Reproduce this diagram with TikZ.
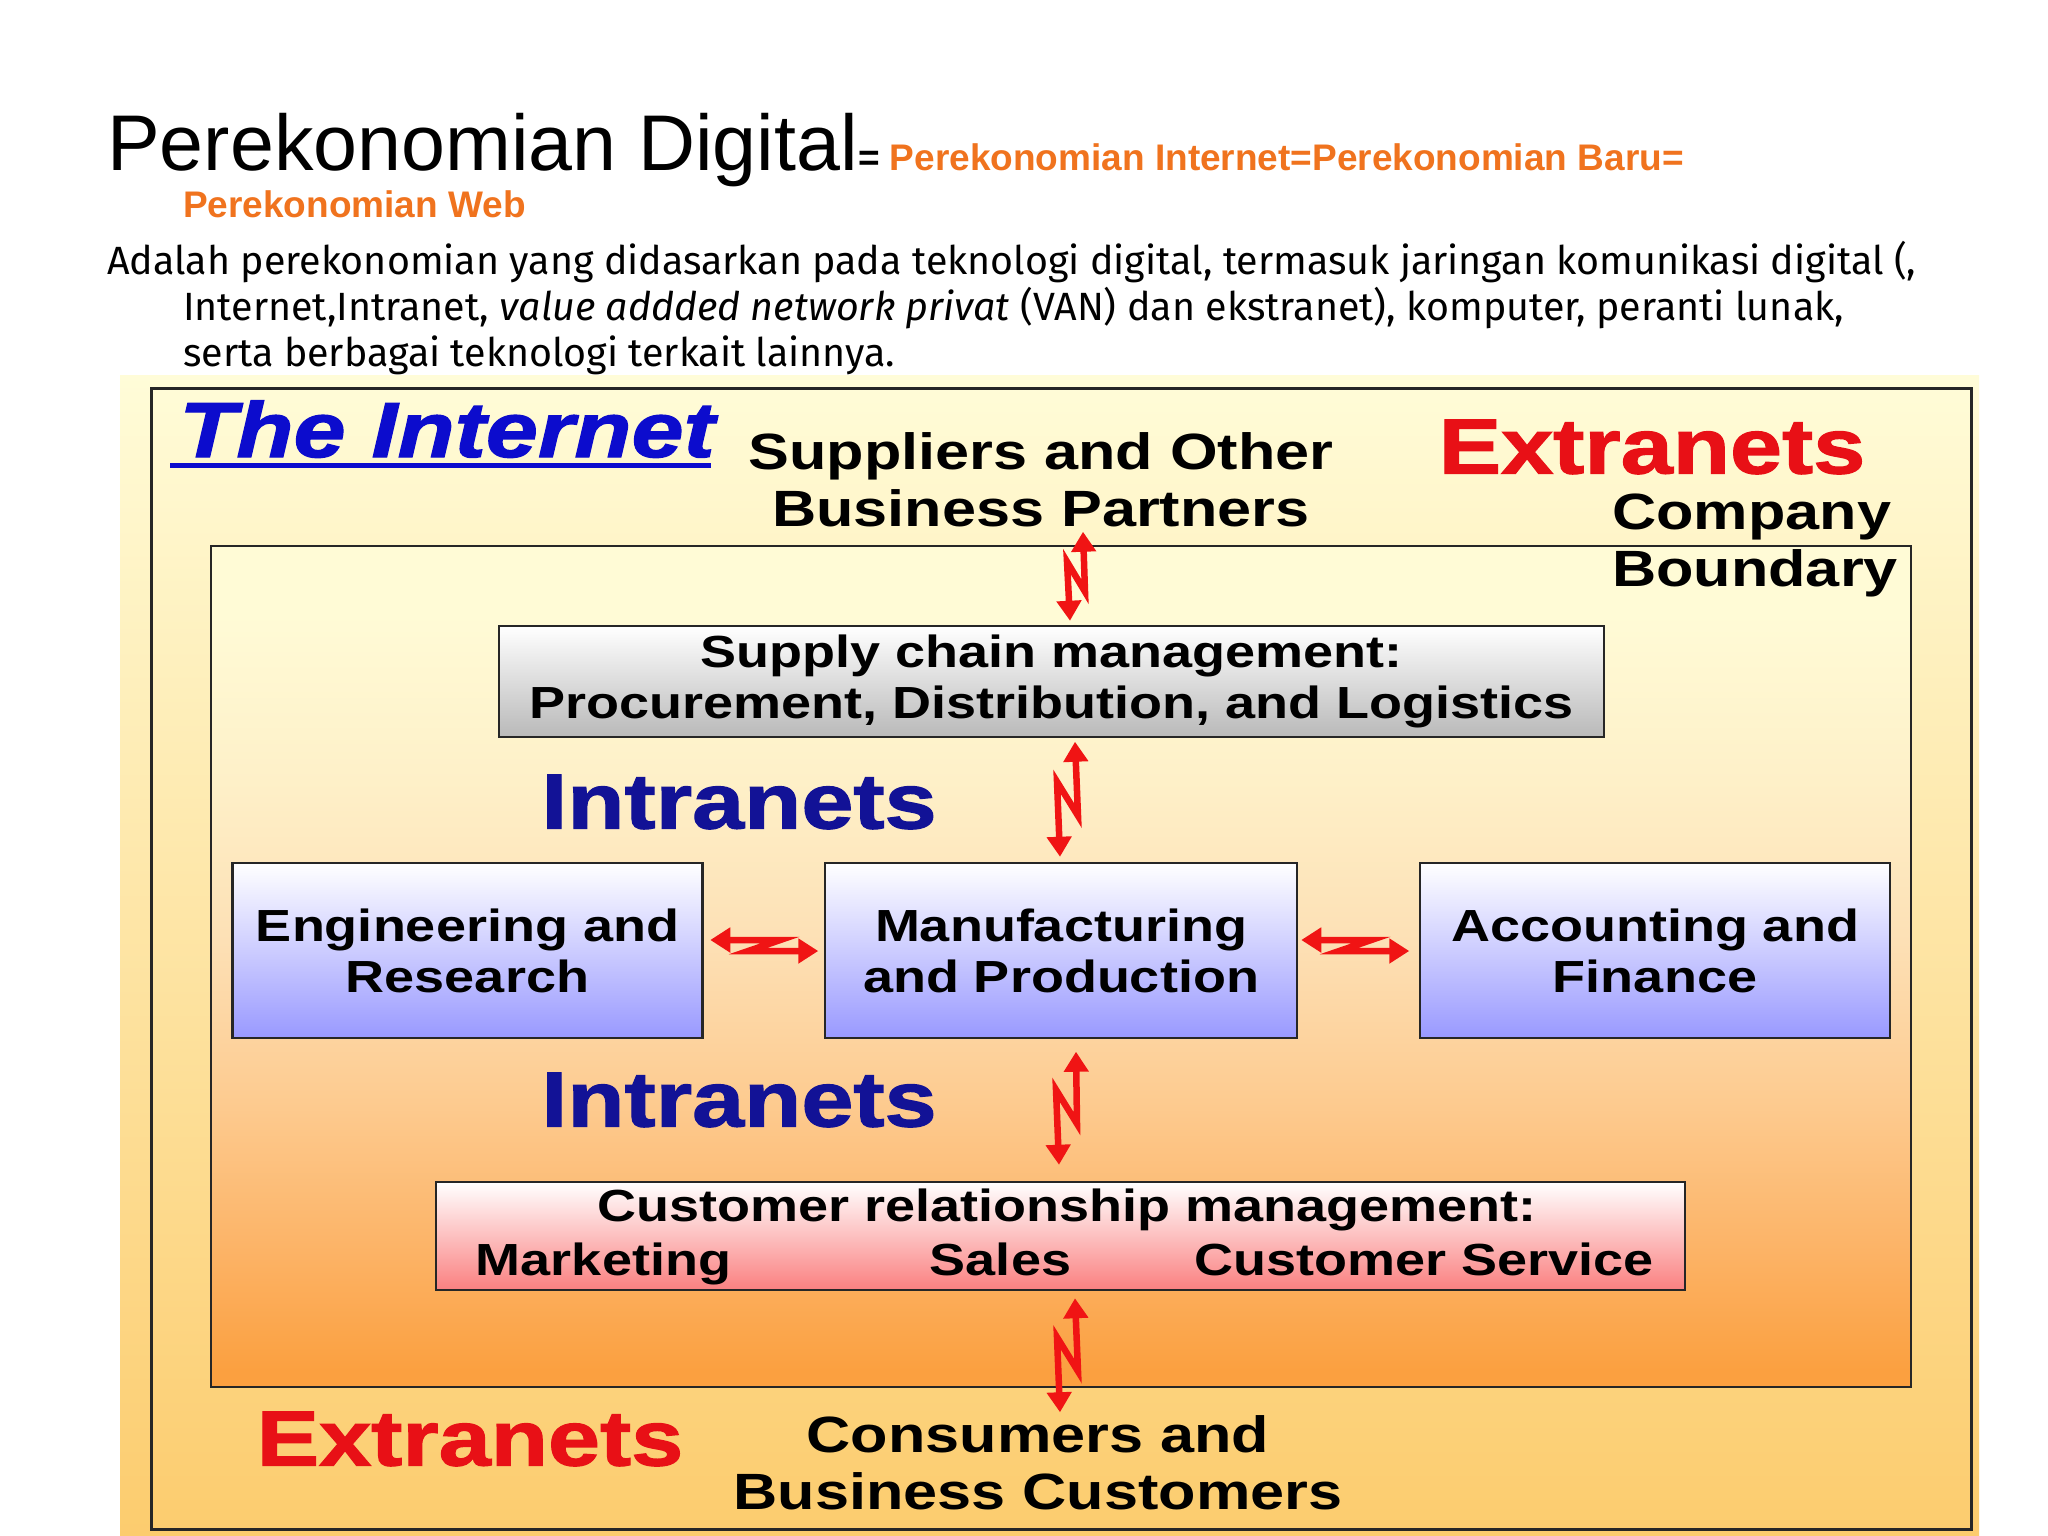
\documentclass[tikz,border=0pt]{standalone}
\usepackage{fontspec}
\setmainfont{Liberation Sans}
\newfontfamily\dfont[FakeStretch=1.2]{Liberation Sans}
\newfontfamily\bigfont[FakeStretch=1.2,FakeBold=1.6]{Liberation Sans Bold}
\newfontfamily\bigifont[FakeStretch=1.2,FakeBold=1.6]{Liberation Sans Bold Italic}
\newfontfamily\bodyfont{Fira Sans}
\usetikzlibrary{arrows.meta,calc}
\definecolor{orng}{RGB}{240,115,30}
\definecolor{redx}{RGB}{232,16,22}
\definecolor{navy}{RGB}{18,18,150}
\definecolor{inetblue}{RGB}{12,12,205}
\definecolor{arrred}{RGB}{240,20,20}
\definecolor{bgtop}{RGB}{255,252,216}
\definecolor{bgbot}{RGB}{252,204,110}
\definecolor{lav}{RGB}{153,153,255}
\definecolor{pinkc}{RGB}{250,128,128}
\definecolor{scmgray}{RGB}{185,185,185}
\definecolor{iA}{RGB}{251,160,64}
\definecolor{iB}{RGB}{252,180,104}
\definecolor{iC}{RGB}{253,203,144}
\definecolor{iD}{RGB}{253,224,181}
\definecolor{iE}{RGB}{254,240,200}
\definecolor{iF}{RGB}{255,251,214}
\pgfdeclareverticalshading{innershade}{100bp}{color(0bp)=(iA); color(26bp)=(iA); color(33.5bp)=(iB); color(42bp)=(iC); color(51.5bp)=(iD); color(61bp)=(iE); color(71bp)=(iF); color(100bp)=(iF)}
\newcommand\fsz[2]{\fontsize{#1}{#2}\selectfont}
\begin{document}
\begin{tikzpicture}[x=1pt,y=-1pt,
  boxtxt/.style={inner sep=0pt, font=\dfont\bfseries\fsz{45}{51}},
  box/.style={draw=black!85, line width=2.5pt, inner sep=0pt, align=center, font=\dfont\bfseries\fsz{45}{51}},
  midbox/.style={box, minimum width=470pt, minimum height=175pt, top color=white, bottom color=lav},
  txtmid/.style={inner sep=0pt, align=center, font=\dfont\bfseries\fsz{51}{57}},
  bigred/.style={inner sep=0pt, text=redx, font=\bigfont\fsz{78}{90}},
  bignavy/.style={inner sep=0pt, text=navy, font=\bigfont\fsz{78}{90}},
  bodytxt/.style={inner sep=0pt, anchor=base west, font=\bodyfont\fsz{39.4}{46}},
  zz/.style={draw=arrred, line width=6.5pt, line join=miter,
    {Triangle[length=20pt,width=24pt]}-{Triangle[length=20pt,width=24pt]}}
]
\useasboundingbox (0,0) rectangle (2048,1536);
\fill[white] (0,0) rectangle (2048,1536);

% header text
\node[anchor=base west, inner sep=0pt] (title) at (107,170)
  {\fsz{79}{90}Perekonomian Digital{\fsz{37}{44}\bfseries= \textcolor{orng}{Perekonomian Internet=Perekonomian Baru=}}};
\node[anchor=base west, inner sep=0pt, text=orng, font=\bfseries\fsz{37}{44}] (sub) at (183,217) {Perekonomian Web};
\node[bodytxt] (b1) at (107,274) {Adalah perekonomian yang didasarkan pada teknologi digital, termasuk jaringan komunikasi digital (,};
\node[bodytxt] (b2) at (183,320) {Internet,Intranet, \textit{value addded network privat} (VAN) dan ekstranet), komputer, peranti lunak,};
\node[bodytxt] (b3) at (183,366) {serta berbagai teknologi terkait lainnya.};

% diagram background and frames
\fill[top color=bgtop, bottom color=bgbot] (120,375) rectangle (1979,1536);
\draw[line width=3pt, black!85] (151,388) rectangle (1971,1529);
\draw[line width=2.5pt, black!85, shading=innershade] (211,546) rectangle (1911,1387);

% top labels
\node[anchor=base west, inner sep=0pt, text=inetblue, font=\bigifont\fsz{78}{90}] (inet) at (179,457) {The Internet};
\draw[inetblue, line width=5pt] ([shift={(-9,8)}]inet.base west) -- ([shift={(-4,8)}]inet.base east);
\node[txtmid] (sup) at (1041,480) {Suppliers and Other\\Business Partners};
\node[bigred] (ext1) at (1652,447) {Extranets};
\node[txtmid, align=left, anchor=west] (cb) at (1612,545) {Company\\Boundary};

% boxes
\node[box, minimum width=1105pt, minimum height=111pt, top color=white, bottom color=scmgray] (scm) at (1051.5,681.5)
  {Supply chain management:\\Procurement, Distribution, and Logistics};
\node[bignavy] (intra1) at (739,802) {Intranets};
\node[midbox] (eng) at (467.5,950.5) {Engineering and\\Research};
\node[midbox, minimum width=472pt] (man) at (1061,950.5) {Manufacturing\\and Production};
\node[midbox] (acc) at (1655,950.5) {Accounting and\\Finance};
\node[bignavy] (intra2) at (739,1100) {Intranets};
\node[box, minimum width=1249pt, minimum height=108pt, top color=white, bottom color=pinkc] (crm) at (1060.5,1236) {};
\node[boxtxt, anchor=base] (crm1) at (1067,1221) {Customer relationship management:};
\node[boxtxt, anchor=base] (mkt) at (603.5,1275) {Marketing};
\node[boxtxt, anchor=base] (sales) at (1000.5,1275) {Sales};
\node[boxtxt, anchor=base] (cs) at (1424,1275) {Customer Service};

% bottom labels
\node[bigred] (ext2) at (470,1439) {Extranets};
\node[txtmid] (cons) at (1038,1463) {Consumers and\\Business Customers};

% zigzag connectors
\draw[zz] ([shift={(18.5,-4)}]scm.north) -- ++(-3,-59) -- ++(18,30) -- ++(-2,-60);
\draw[zz] ([shift={(-1,-5)}]man.north) -- ++(-3,-75) -- ++(21,34) -- ++(-3,-74);
\draw[zz] ([shift={(-1.5,-16)}]crm.north) -- ++(-3,-75) -- ++(21,34) -- ++(-1,-72);
\draw[zz] ([shift={(14.5,7)}]crm.south) -- ++(3,73) -- ++(-21,-34) -- ++(3,75);
\draw[zz] ([shift={(6.5,-10.5)}]eng.east) -- ++(70,0) -- ++(-32,11) -- ++(70,0);
\draw[zz] ([shift={(3,-10.5)}]man.east) -- ++(70,0) -- ++(-32,11) -- ++(70,0);
\end{tikzpicture}
\end{document}
